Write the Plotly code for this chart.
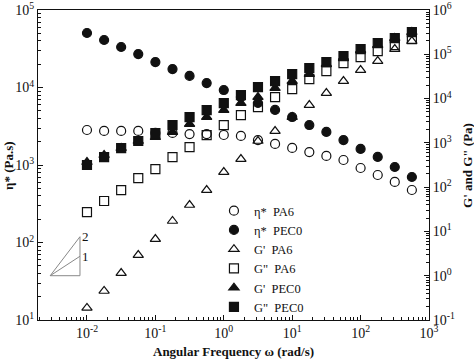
import numpy as np
import plotly.graph_objects as go

# Angular frequency (rad/s), 4 points per decade
omega = [0.01, 0.0178, 0.0316, 0.0562, 0.1, 0.178, 0.316, 0.562, 1.0, 1.78,
         3.16, 5.62, 10.0, 17.8, 31.6, 56.2, 100.0, 178.0, 316.0, 562.0]

eta_pa6 = [2830, 2750, 2750, 2750, 2590, 2590, 2510, 2510, 2440, 2370,
           2100, 1870, 1660, 1470, 1310, 1160, 915, 743, 604, 476]
eta_pec0 = [50500, 41000, 33300, 27000, 21300, 17300, 14100, 11400, 9280, 7530,
            6310, 5130, 4160, 3280, 2670, 2100, 1610, 1270, 942, 700]
gp_pa6 = [0.187, 0.452, 1.15, 2.93, 6.73, 17.2, 39.5, 86, 219, 431,
          1100, 1850, 3820, 7130, 13300, 24800, 44000, 70300, 131000, 199000]
gpp_pa6 = [27.4, 48.6, 86, 160, 256, 478, 803, 1500, 2520, 4240,
           6430, 10800, 16400, 27500, 41800, 63200, 86400, 118000, 161000, 221000]
gp_pec0 = [369, 531, 764, 1100, 1350, 1750, 2660, 3820, 5500, 7910,
           10800, 17300, 24800, 35700, 60100, 82100, 124000, 161000, 232000, 317000]
gpp_pec0 = [316, 478, 764, 1100, 1660, 2520, 3820, 5500, 7910, 12000,
            18200, 24800, 35700, 48800, 66700, 91000, 131000, 179000, 232000, 317000]

# slope guide triangle (on G axis)
slope_x = [0.0029, 0.0079, 0.0079, 0.0029, 0.0079]
slope_y = [1.0, 1.0, 7.6, 1.0, 2.75]

FONT = "Liberation Serif"
BLACK = "#111111"

fig = go.Figure()

series = [
    ("η*  PA6", omega, eta_pa6, "circle-open", "y"),
    ("η*  PEC0", omega, eta_pec0, "circle", "y"),
    ("G'  PA6", omega, gp_pa6, "triangle-up-open", "y2"),
    ("G\"  PA6", omega, gpp_pa6, "square-open", "y2"),
    ("G'  PEC0", omega, gp_pec0, "triangle-up", "y2"),
    ("G\"  PEC0", omega, gpp_pec0, "square", "y2"),
]
for name, xs, ys, sym, ax in series:
    fig.add_trace(go.Scatter(
        x=xs, y=ys, mode="markers", name=name, yaxis=ax,
        marker=dict(symbol=sym, size=9, color=BLACK,
                    line=dict(color=BLACK, width=1.2)),
    ))

fig.add_trace(go.Scatter(
    x=slope_x, y=slope_y, yaxis="y2", mode="lines", showlegend=False,
    line=dict(color="#888888", width=1), hoverinfo="skip"))

fig.add_annotation(x=np.log10(0.0079), y=np.log10(7.6), xref="x", yref="y2",
                   text="2", showarrow=False, xanchor="left", xshift=0,
                   font=dict(family=FONT, size=13, color=BLACK))
fig.add_annotation(x=np.log10(0.0079), y=np.log10(2.75), xref="x", yref="y2",
                   text="1", showarrow=False, xanchor="left", xshift=0,
                   font=dict(family=FONT, size=13, color=BLACK))

# axis titles as annotations (precise placement)
TFONT = dict(family=FONT, size=13, color=BLACK)
fig.add_annotation(x=0.5, y=-0.103, xref="paper", yref="paper",
                   text="<b>Angular Frequency ω (rad/s)</b>", showarrow=False,
                   xanchor="center", yanchor="middle", font=TFONT)
fig.add_annotation(x=-0.077, y=0.5, xref="paper", yref="paper",
                   text="<b>η* (Pa.s)</b>", showarrow=False, textangle=-90,
                   xanchor="center", yanchor="middle", font=TFONT)
fig.add_annotation(x=1.097, y=0.5, xref="paper", yref="paper",
                   text="<b>G' and G\" (Pa)</b>", showarrow=False, textangle=-90,
                   xanchor="center", yanchor="middle", font=TFONT)


def sup(p):
    return "10<sup>" + str(p) + "</sup>"


def minor_vals(lo, hi):
    v = []
    for d in range(lo, hi):
        for m in range(2, 10):
            v.append(m * 10.0 ** d)
    return v


xt = list(range(-2, 4))
yt = list(range(1, 6))
y2t = list(range(-1, 7))

axis_common = dict(
    showline=True, linecolor=BLACK, linewidth=1, ticks="inside",
    tickcolor=BLACK, ticklen=5, showgrid=False, zeroline=False,
    automargin=False,
    tickfont=dict(family=FONT, size=14, color=BLACK),
)

fig.update_layout(
    width=474, height=359,
    margin=dict(l=38, r=45, t=10, b=39),
    paper_bgcolor="white", plot_bgcolor="white",
    font=dict(family=FONT, color=BLACK),
    xaxis=dict(
        type="log", range=[-2.716, 3], mirror=True,
        tickvals=[10.0 ** p for p in xt], ticktext=[sup(p) for p in xt],
        minor=dict(ticks="inside", ticklen=3, tickcolor=BLACK, tickmode="array",
                   tickvals=minor_vals(-3, 3)),
        **axis_common),
    yaxis=dict(
        type="log", range=[1, 5],
        tickvals=[10.0 ** p for p in yt], ticktext=[sup(p) for p in yt],
        minor=dict(ticks="inside", ticklen=3, tickcolor=BLACK, tickmode="array",
                   tickvals=minor_vals(1, 5)),
        **axis_common),
    yaxis2=dict(
        type="log", range=[-1, 6], overlaying="y", side="right",
        tickvals=[10.0 ** p for p in y2t], ticktext=[sup(p) for p in y2t],
        minor=dict(ticks="inside", ticklen=3, tickcolor=BLACK, tickmode="array",
                   tickvals=minor_vals(-1, 6)),
        **axis_common),
    legend=dict(x=0.45, y=0.40, xanchor="left", yanchor="top",
                bgcolor="rgba(0,0,0,0)", borderwidth=0,
                font=dict(family=FONT, size=12.5, color=BLACK),
                itemwidth=30, tracegroupgap=0),
    showlegend=True,
)

fig.write_html("out.html",
               config={"displayModeBar": False},
               post_script="document.body.style.margin='0';"
                           "document.body.style.overflow='hidden';")
